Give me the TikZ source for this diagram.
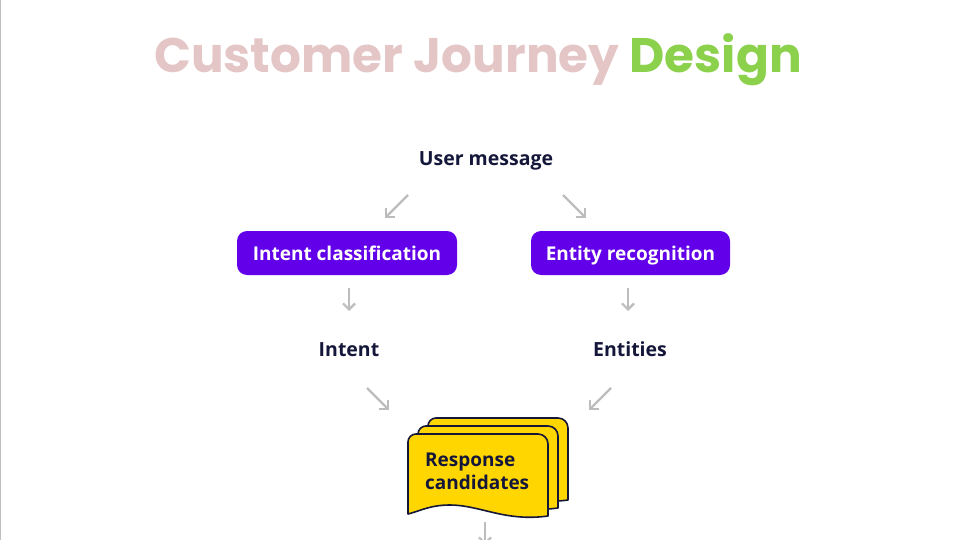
\documentclass[tikz,border=0pt]{standalone}
\usepackage{fontspec}
\setmainfont{Open Sans}
\newfontfamily\titlefont{Poppins}
\usetikzlibrary{arrows.meta}
\definecolor{titlepink}{HTML}{E5C6C6}
\definecolor{titlegreen}{HTML}{8BD14B}
\definecolor{boxpurple}{HTML}{6200EA}
\definecolor{navy}{HTML}{15173A}
\definecolor{arrowgray}{HTML}{BDBDBD}
\definecolor{docyellow}{HTML}{FFD600}
\tikzset{
  label/.style={font=\fontsize{19.5}{22}\selectfont\bfseries, text=navy, inner sep=0pt, text height=14pt, text depth=4pt},
  procbox/.style={fill=boxpurple, rounded corners=10pt, text=white, font=\fontsize{19}{22}\selectfont\bfseries, minimum height=44pt, inner sep=0pt, text height=16pt, text depth=2pt},
  flow/.style={draw=arrowgray, line width=2.2pt, -{Straight Barb[length=6pt,width=12pt,line width=2.2pt]}},
  doc/.style={fill=docyellow, draw=navy, line width=1.6pt, line join=round}
}
\begin{document}
\begin{tikzpicture}[x=1pt,y=-1pt]
\useasboundingbox (0,0) rectangle (960,540);
\fill[white] (0,0) rectangle (960,540);
\draw[black!25, line width=0.8pt] (0.6,0) -- (0.6,540);
% title
\node[inner sep=0pt, font=\titlefont\bfseries\fontsize{48.5}{52}\selectfont] (title) at (478,60)
  {\textcolor{titlepink}{Customer Journey} \textcolor{titlegreen}{Design}};
% labels
\node[label] (user) at (486,160) {User message};
\node[procbox, minimum width=220pt] (intentc) at (347,253) {Intent classification};
\node[procbox, minimum width=199pt] (entityr) at (630.5,253) {Entity recognition};
\node[label] (intent) at (349,351) {Intent};
\node[label] (entities) at (630,351) {Entities};
% arrow anchor coordinates
\coordinate (a1s) at (408,195); \coordinate (a1e) at (385,218);
\coordinate (a2s) at (563,195); \coordinate (a2e) at (586,218);
\coordinate (a3s) at (349,288); \coordinate (a3e) at (349,311);
\coordinate (a4s) at (628,288); \coordinate (a4e) at (628,311);
\coordinate (a5s) at (367,388); \coordinate (a5e) at (389,410);
\coordinate (a6s) at (611,388); \coordinate (a6e) at (589,410);
\coordinate (a7s) at (485,522); \coordinate (a7e) at (485,545);
\foreach \i in {1,...,7} { \draw[flow] (a\i s) -- (a\i e); }
% stacked documents
\foreach \dx/\dy in {20/-16, 10/-8, 0/0} {
  \begin{scope}[shift={(\dx,\dy)}]
  \filldraw[doc] (408,514) -- (408,442) arc[start angle=180, end angle=270, radius=8] -- (538,434)
     arc[start angle=270, end angle=360, radius=10] -- (548,516)
     .. controls (505,522) and (480,505) .. (450,505) .. controls (430,505) and (420,511) .. (408,514) -- cycle;
  \end{scope}
}
\node[label, align=left, anchor=west, font=\fontsize{19}{23}\selectfont\bfseries, text height=, text depth=] (resp) at (425,471) {Response\\candidates};
\end{tikzpicture}
\end{document}
